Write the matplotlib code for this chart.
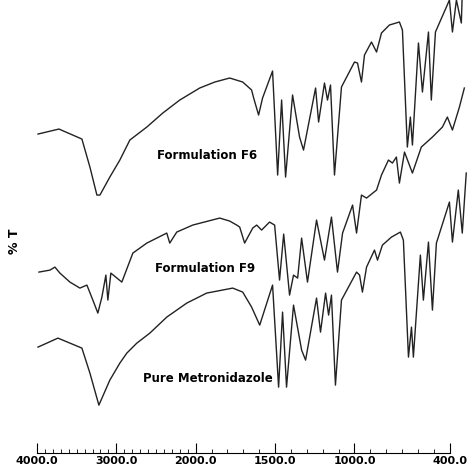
import numpy as np
import matplotlib.pyplot as plt

# FTIR spectra: wavenumber (cm-1) and relative transmittance (offset, arbitrary units)
f6_wn = [3987, 3723, 3434, 3333, 3245, 3207, 3082, 2956, 2830, 2616, 2415, 2201, 1975, 1880,
         1786, 1704, 1648, 1635, 1604, 1579, 1516, 1484, 1459, 1434, 1390, 1346, 1321, 1245,
         1226, 1189, 1170, 1151, 1126, 1082, 1000, 981, 956, 937, 893, 861, 830, 780, 717,
         698, 667, 648, 635, 597, 572, 534, 516, 490, 421, 402, 383, 358, 327, 321]
f6_t = [319, 324, 314, 286, 258, 258, 276, 293, 313, 326, 340, 353, 365, 371,
        375, 371, 363, 355, 338, 355, 382, 278, 353, 276, 358, 316, 303, 365,
        331, 370, 353, 368, 278, 366, 391, 390, 371, 398, 411, 401, 420, 428, 431,
        423, 306, 336, 308, 410, 361, 421, 353, 421, 446, 453, 421, 453, 430, 460]

f9_wn = [3975, 3836, 3774, 3711, 3585, 3459, 3371, 3296, 3233, 3182, 3132, 3107, 3069, 2931,
         2792, 2616, 2365, 2327, 2239, 2038, 1849, 1786, 1742, 1723, 1692, 1641, 1616, 1585,
         1535, 1503, 1472, 1446, 1409, 1384, 1358, 1333, 1296, 1239, 1189, 1145, 1107, 1075,
         1012, 987, 956, 924, 861, 830, 786, 761, 736, 717, 685, 635, 579, 509, 446, 415,
         383, 339, 308]
f9_t = [181, 183, 186, 180, 171, 165, 168, 153, 140, 156, 178, 153, 180, 171,
        200, 210, 220, 210, 221, 228, 235, 232, 228, 226, 210, 225, 228, 223,
        231, 228, 173, 219, 158, 178, 175, 215, 171, 233, 193, 236, 181, 220,
        248, 220, 258, 255, 263, 278, 293, 290, 296, 270, 301, 280, 306, 316, 326, 336,
        323, 346, 365]

pure_wn = [3987, 3736, 3434, 3333, 3220, 3082, 2956, 2868, 2742, 2578, 2365, 2113, 1931, 1767,
           1704, 1648, 1597, 1516, 1478, 1453, 1428, 1384, 1333, 1308, 1239, 1214, 1182, 1163,
           1145, 1120, 1082, 987, 968, 950, 924, 874, 855, 824, 767, 711, 692, 660, 641, 629,
           585, 566, 534, 509, 484, 402, 383, 346, 321, 296]
pure_t = [106, 115, 105, 80, 48, 73, 90, 100, 110, 120, 136, 150, 160, 165,
          161, 146, 128, 168, 66, 141, 66, 148, 103, 93, 155, 121, 160, 138,
          158, 68, 153, 181, 178, 161, 186, 203, 193, 208, 216, 221, 213, 96, 126, 96,
          198, 153, 211, 143, 210, 251, 211, 263, 220, 280]

tick_vals = [4000, 3000, 2000, 1500, 1000, 400]
tick_labels = ['4000.0', '3000.0', '2000.0', '1500.0', '1000.0', '400.0']


# instrument display: region above 2000 cm-1 compressed 2x
def fwd(w):
    w = np.asarray(w, dtype=float)
    return np.where(w > 2000, 2000 + (w - 2000) / 2, w)


def inv(u):
    u = np.asarray(u, dtype=float)
    return np.where(u > 2000, 2000 + (u - 2000) * 2, u)


fig = plt.figure(figsize=(4.74, 4.74), dpi=100)
ax = fig.add_axes([0.078, 0.044, 0.911, 0.956])
ax.set_xscale('function', functions=(fwd, inv))
ax.set_xlim(4000, 280)
ax.set_ylim(0, 453)

for wn, t in [(f6_wn, f6_t), (f9_wn, f9_t), (pure_wn, pure_t)]:
    ax.plot(wn, t, color='#222222', lw=1.0)

bold = dict(fontsize=8.5, fontweight='bold', ha='center', va='center')
ax.text(1931, 298, 'Formulation F6', **bold)
ax.text(1943, 185, 'Formulation F9', **bold)
ax.text(1925, 75, 'Pure Metronidazole', **bold)

for s in ['top', 'right', 'left']:
    ax.spines[s].set_visible(False)
ax.spines['bottom'].set_bounds(4000, 400)
ax.set_yticks([])
ax.set_xticks(tick_vals)
ax.set_xticklabels(tick_labels, fontsize=8, fontweight='bold')
minor = list(range(3900, 2000, -100)) + list(range(1900, 400, -100))
ax.set_xticks(minor, minor=True)
ax.tick_params(axis='x', which='major', direction='in', length=7, pad=2)
ax.tick_params(axis='x', which='minor', direction='in', length=3)
fig.text(0.03, 0.49, '% T', rotation=90, fontsize=9, fontweight='bold',
         ha='center', va='center')

fig.savefig('out.png', dpi=100)
